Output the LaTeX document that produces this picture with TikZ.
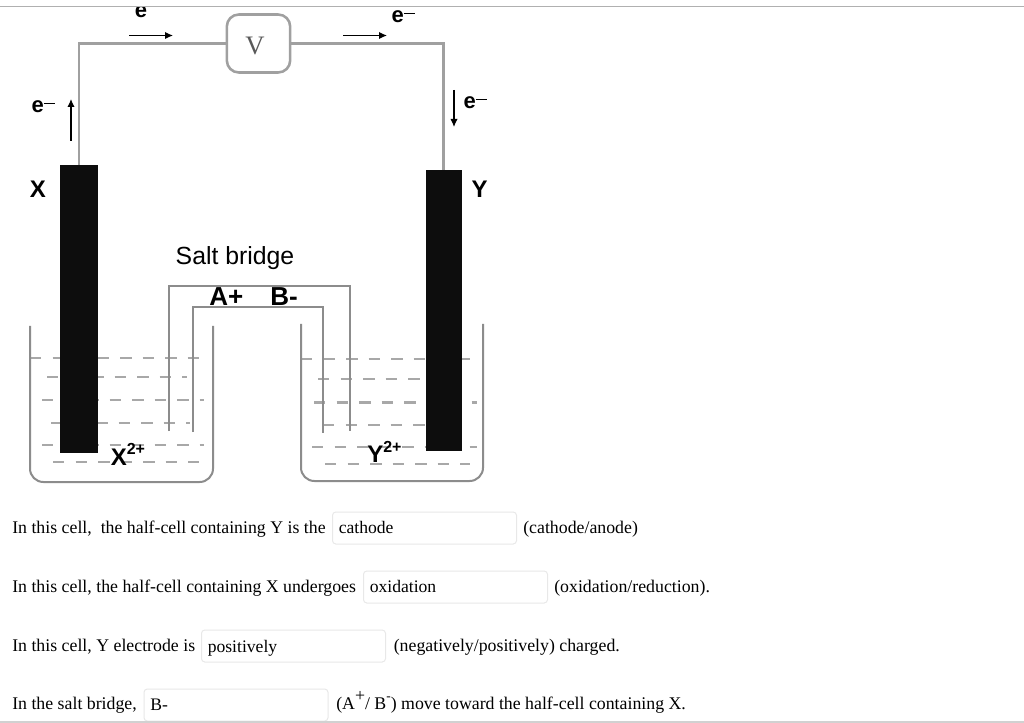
\documentclass[tikz,border=0pt]{standalone}
\usepackage{fontspec}
\setmainfont{Liberation Serif}
\newfontfamily\arialf{Liberation Sans}
\definecolor{wiregray}{HTML}{A0A0A0}
\definecolor{beakergray}{HTML}{8C8C8C}
\definecolor{dashgray}{HTML}{A8A8A8}
\definecolor{inputline}{HTML}{E8E8E8}
\definecolor{topline}{HTML}{B0B0B0}
\definecolor{electrodeblack}{HTML}{0D0D0D}
\usetikzlibrary{arrows.meta}
\tikzset{
  wire/.style={draw=wiregray,line width=1.9pt},
  beaker/.style={draw=beakergray,line width=1.5pt,rounded corners=10pt},
  bridge/.style={draw=beakergray,line width=1.5pt},
  liquid/.style={draw=dashgray,line width=2pt,dash pattern=on 8.6pt off 8.3pt},
  electrode/.style={fill=electrodeblack,draw=none,inner sep=0pt,outer sep=0pt},
  flow/.style={draw=black,line width=0.85pt,-{Latex[length=6pt,width=5.5pt]}},
  chem/.style={font=\arialf\bfseries\fontsize{16.5}{18}\selectfont,inner sep=0pt,anchor=base},
  bigchem/.style={font=\arialf\bfseries\fontsize{18}{20}\selectfont,inner sep=0pt,anchor=base},
  bridgeion/.style={font=\arialf\bfseries\fontsize{19.5}{22}\selectfont,inner sep=0pt,anchor=base west},
  prose/.style={font=\fontsize{13.35}{15}\selectfont,inner sep=0pt,anchor=base west},
  answer/.style={draw=inputline,line width=0.75pt,rounded corners=2.5pt,minimum width=138pt,minimum height=24pt,inner sep=0pt,fill=white},
  answertext/.style={font=\fontsize{13.2}{15}\selectfont,inner sep=0pt,anchor=base west}
}
\begin{document}
\begin{tikzpicture}[x=0.75pt,y=-0.75pt]
\useasboundingbox (0,0) rectangle (1024,723);
\fill[white] (0,0) rectangle (1024,723);
% liquid, left
\foreach \yy/\xa/\xb in {358/30/201,377/47/187,400/42/204,423/51/190,445/42/204,462/53/199}{
  \draw[liquid] (\xa,\yy) -- (\xb,\yy);}
% liquid, right
\foreach \yy/\xa/\xb in {359/301/471,379/318/421,402.5/314/477,425/323/425,447/312/477,464/325/470}{
  \draw[liquid] (\xa,\yy) -- (\xb,\yy);}
% beakers
\draw[beaker] (30,326) -- (30,482) -- (213,482) -- (213,326);
\draw[beaker] (301,324) -- (301,481) -- (483,481) -- (483,324);
% salt bridge
\draw[bridge] (169,431) -- (169,286) -- (350,286) -- (350,431);
\draw[bridge] (193,432) -- (193,307) -- (323,307) -- (323,433);
% electrodes and voltmeter
\node[electrode,minimum width=28.5pt,minimum height=216pt] (XE) at (79,309) {};
\node[electrode,minimum width=27pt,minimum height=211pt] (YE) at (443.5,310.5) {};
\node[draw=wiregray,line width=1.9pt,rounded corners=9pt,minimum width=47.5pt,minimum height=43.5pt,inner sep=0pt,fill=white] (V) at (258.5,43.5) {};
\node[inner sep=0pt,font=\fontsize{20}{22}\selectfont,text=black!65] (Vl) at (255,46) {V};
\draw[wire] (XE.north) |- (V.west);
\draw[wire] (V.east) -| (YE.north);
% electron flow arrows
\coordinate (a1s) at (129,35.5); \coordinate (a1e) at (173,35.5);
\coordinate (a2s) at (343,35.5); \coordinate (a2e) at (387,35.5);
\coordinate (a3s) at (71,141); \coordinate (a3e) at (71,99);
\coordinate (a4s) at (454,90); \coordinate (a4e) at (454,127);
\draw[flow] (a1s) -- (a1e);
\draw[flow] (a2s) -- (a2e);
\draw[flow] (a3s) -- (a3e);
\draw[flow] (a4s) -- (a4e);
% diagram labels
\newcommand{\eminus}{e\rule[6.6pt]{8.5pt}{1.1pt}}
\node[chem] (e1) at (141,18) {e};
\fill[white] (0,0) rectangle (1024,6);
\draw[topline,line width=0.75pt] (0,6.5) -- (1024,6.5);
\node[chem] (e2) at (403.5,23) {\eminus};
\node[chem] (e3) at (43.5,113) {\eminus};
\node[chem] (e4) at (475.5,109) {\eminus};
\node[bigchem] (lx) at (38,198) {X};
\node[bigchem] (ly) at (479.5,198) {Y};
\node[inner sep=0pt,anchor=base,font=\arialf\fontsize{18.6}{20}\selectfont] (sb) at (235,265) {Salt bridge};
\node[bridgeion] (ap) at (209,306) {A+};
\node[bridgeion] (bm) at (270,306) {B-};
\node[bigchem,anchor=base west] (x2) at (110.5,465) {X\raisebox{0.42em}{\fontsize{12}{13}\selectfont 2+}};
\node[bigchem,anchor=base west] (y2) at (367,462.5) {Y\raisebox{0.42em}{\fontsize{12}{13}\selectfont 2+}};
% question rows
\node[prose] (q1) at (12,533) {In this cell,\ \ the half-cell containing Y is the};
\node[answer] (b1) at (424.5,528) {};
\node[answertext] (t1) at (338.5,533.5) {cathode};
\node[prose] (r1) at (523,533) {(cathode/anode)};
\node[prose] (q2) at (12,592) {In this cell, the half-cell containing X undergoes};
\node[answer] (b2) at (455.5,587) {};
\node[answertext] (t2) at (369.5,592.5) {oxidation};
\node[prose] (r2) at (554,592) {(oxidation/reduction).};
\node[prose] (q3) at (12,651) {In this cell, Y electrode is};
\node[answer] (b3) at (293.5,646) {};
\node[answertext] (t3) at (207.5,652) {positively};
\node[prose] (r3) at (393.5,651) {(negatively/positively) charged.};
\node[prose] (q4) at (12,709) {In the salt bridge,};
\node[answer] (b4) at (236,705) {};
\node[answertext] (t4) at (150,710) {B-};
\node[prose] (r4) at (336,709) {(A\raisebox{0.4em}{\fontsize{13.35}{13}\selectfont +}/ B\raisebox{0.45em}{\fontsize{10}{10}\selectfont -}) move toward the half-cell containing X.};
\fill[black!18] (0,721) rectangle (1024,723);
\end{tikzpicture}
\end{document}
